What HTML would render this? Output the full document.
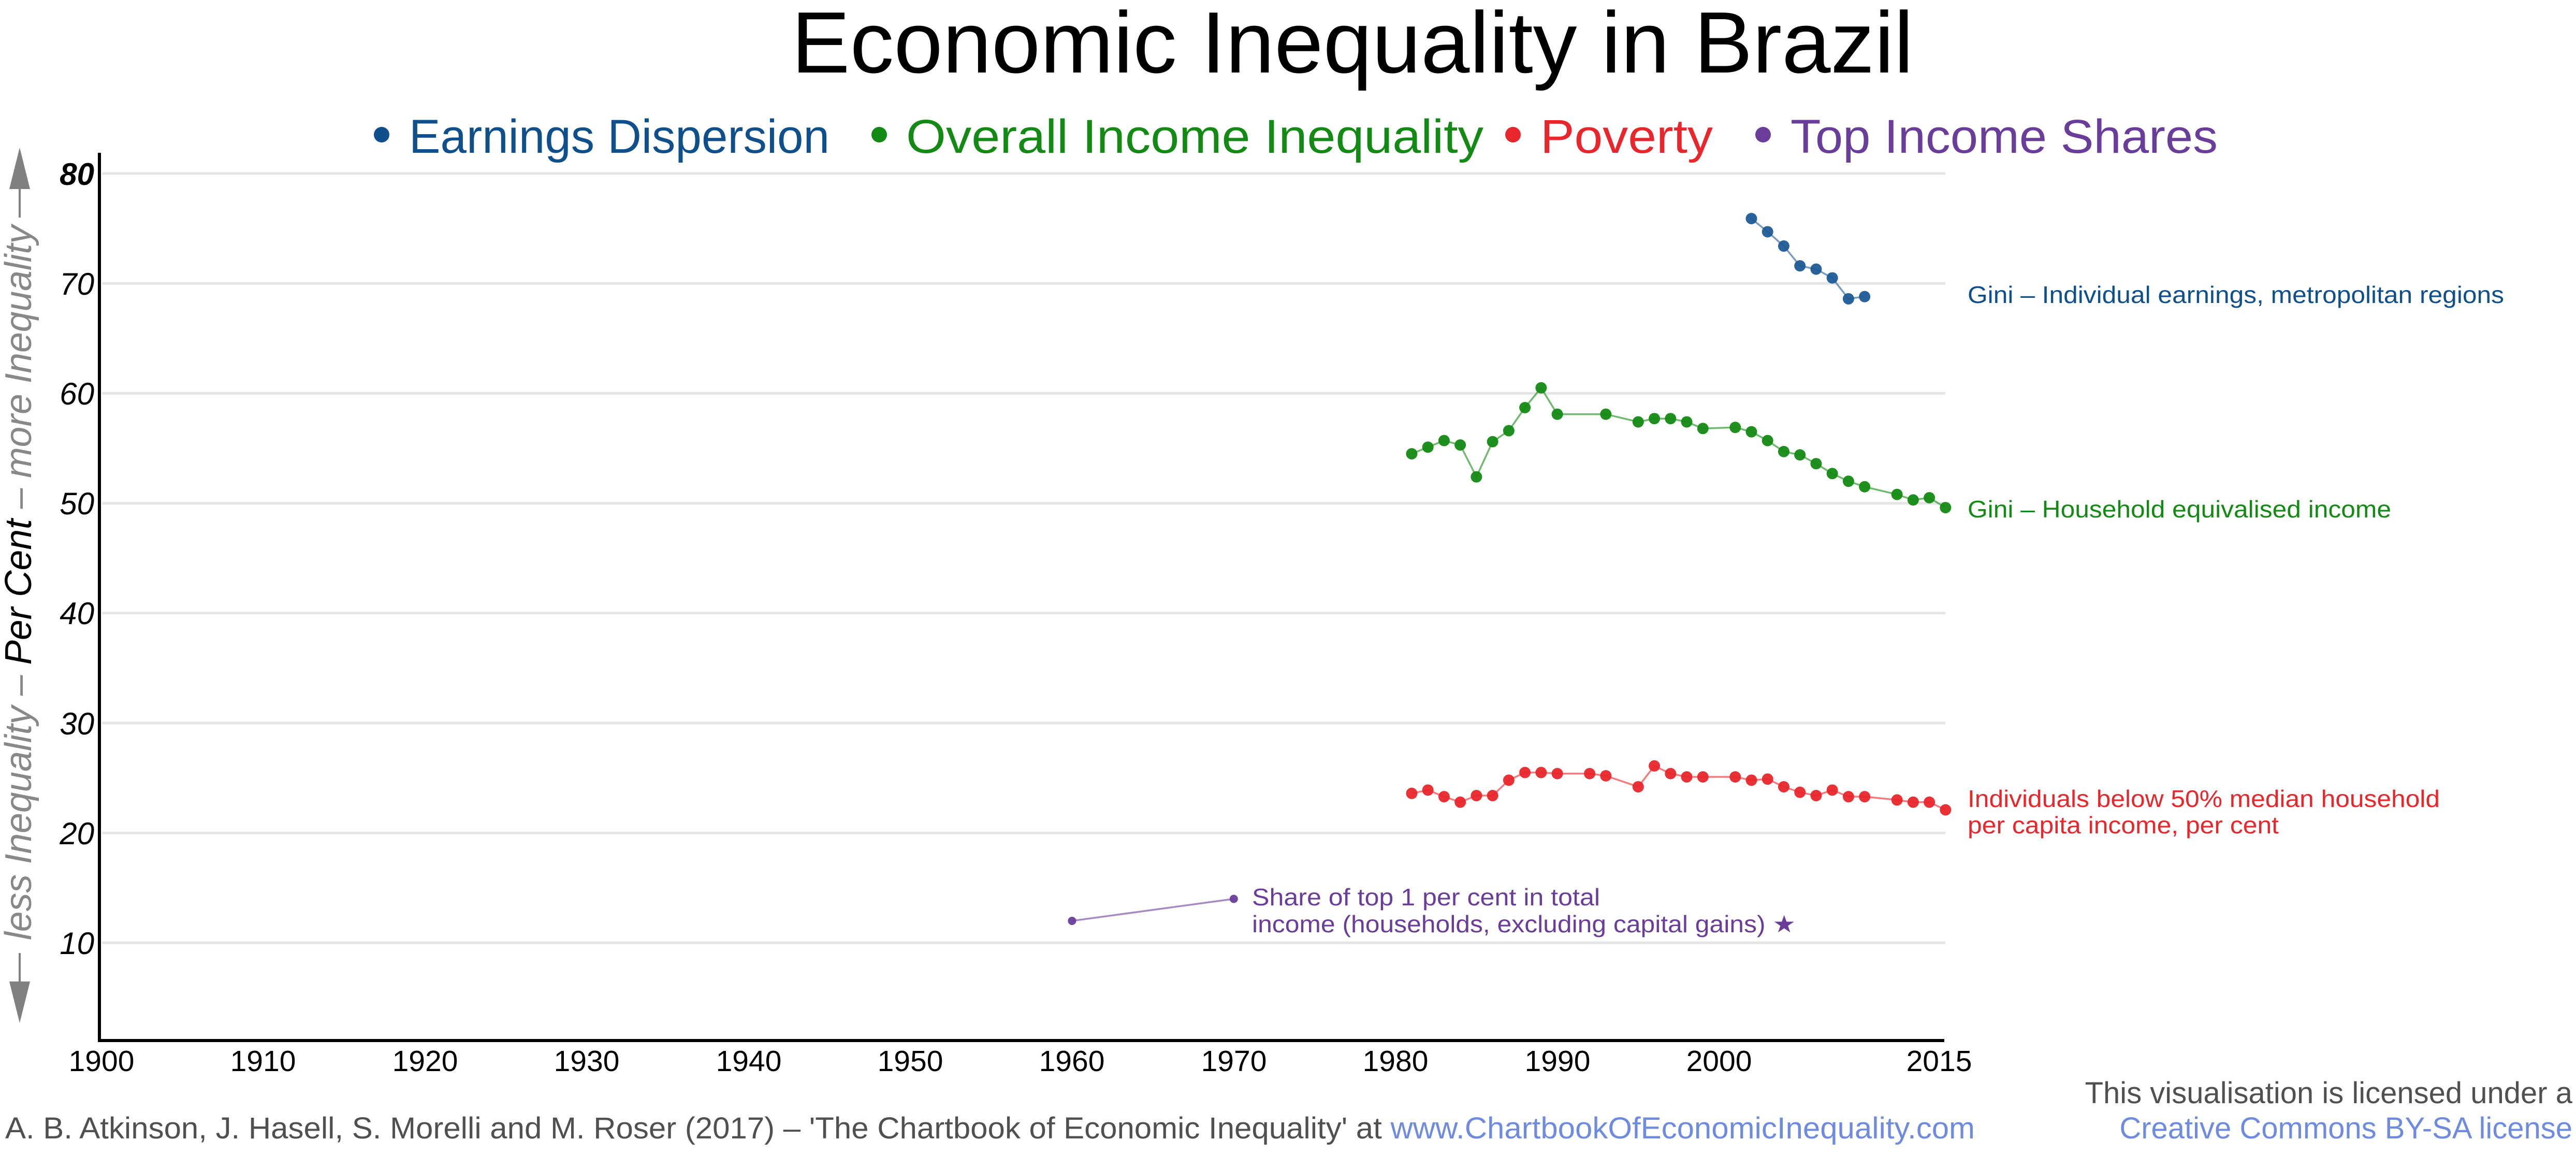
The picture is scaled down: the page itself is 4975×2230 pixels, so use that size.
<!DOCTYPE html>
<html><head><meta charset="utf-8"><style>
html,body{margin:0;padding:0;background:#fff}
svg{display:block}
text{font-family:"Liberation Sans",sans-serif}
</style></head><body>
<svg id="s" width="4975" height="2230" viewBox="0 0 4975 2230" xmlns="http://www.w3.org/2000/svg">
<text x="2612" y="140" font-size="168" font-weight="300" text-anchor="middle" textLength="2167" lengthAdjust="spacingAndGlyphs" fill="#000">Economic Inequality in Brazil</text>
<g font-size="92">
<circle cx="737" cy="260" r="15" fill="#0f4f8b"/><text x="790" y="295" fill="#0f4f8b" textLength="812" lengthAdjust="spacingAndGlyphs">Earnings Dispersion</text>
<circle cx="1698" cy="260" r="15" fill="#138a13"/><text x="1750" y="295" fill="#138a13" textLength="1115" lengthAdjust="spacingAndGlyphs">Overall Income Inequality</text>
<circle cx="2922" cy="260" r="15" fill="#e8262b"/><text x="2975" y="295" fill="#e8262b" textLength="333" lengthAdjust="spacingAndGlyphs">Poverty</text>
<circle cx="3405" cy="260" r="15" fill="#6a3d9a"/><text x="3458" y="295" fill="#6a3d9a" textLength="825" lengthAdjust="spacingAndGlyphs">Top Income Shares</text>
</g>
<g id="grid" stroke="#e5e5e5" stroke-width="5"></g>
<line x1="192" y1="295" x2="192" y2="2012" stroke="#000" stroke-width="6"/>
<line x1="189" y1="2009" x2="3755" y2="2009" stroke="#000" stroke-width="6"/>
<g font-size="60" font-style="italic" text-anchor="end" fill="#000">
<text x="182" y="357" font-weight="bold">80</text>
<text x="182" y="569">70</text><text x="182" y="781">60</text><text x="182" y="993">50</text>
<text x="182" y="1205">40</text><text x="182" y="1418">30</text><text x="182" y="1630">20</text><text x="182" y="1842">10</text>
</g>
<g font-size="57" text-anchor="middle" fill="#000">
<text x="196" y="2068">1900</text><text x="508" y="2068">1910</text><text x="821" y="2068">1920</text>
<text x="1133" y="2068">1930</text><text x="1446" y="2068">1940</text><text x="1758" y="2068">1950</text>
<text x="2070" y="2068">1960</text><text x="2383" y="2068">1970</text><text x="2695" y="2068">1980</text>
<text x="3008" y="2068">1990</text><text x="3320" y="2068">2000</text><text x="3745" y="2068">2015</text>
</g>
<polygon points="38,285 18,365 58,365" fill="#808080"/>
<polygon points="38,1975 18,1895 58,1895" fill="#808080"/>
<line x1="38" y1="360" x2="38" y2="420" stroke="#808080" stroke-width="4"/>
<line x1="38" y1="1840" x2="38" y2="1900" stroke="#808080" stroke-width="4"/>
<text transform="translate(60,1125) rotate(-90)" font-size="72" font-style="italic" text-anchor="middle" textLength="1380" lengthAdjust="spacingAndGlyphs" fill="#888">less Inequality – <tspan fill="#000">Per Cent</tspan> – more Inequality</text>
<g id="data"></g>
<g font-size="46">
<text x="3800" y="585" fill="#0f4f8b" textLength="1036" lengthAdjust="spacingAndGlyphs">Gini – Individual earnings, metropolitan regions</text>
<text x="3800" y="999" fill="#138a13" textLength="818" lengthAdjust="spacingAndGlyphs">Gini – Household equivalised income</text>
<text x="3800" y="1558" fill="#e8262b" textLength="912" lengthAdjust="spacingAndGlyphs">Individuals below 50% median household</text>
<text x="3800" y="1609" fill="#e8262b" textLength="601" lengthAdjust="spacingAndGlyphs">per capita income, per cent</text>
<text x="2418" y="1748" fill="#6a3d9a" textLength="672" lengthAdjust="spacingAndGlyphs">Share of top 1 per cent in total</text>
<text x="2418" y="1800" fill="#6a3d9a" textLength="1050" lengthAdjust="spacingAndGlyphs">income (households, excluding capital gains) ★</text>
</g>
<text x="10" y="2198" font-size="58" fill="#505050" textLength="3804" lengthAdjust="spacingAndGlyphs">A. B. Atkinson, J. Hasell, S. Morelli and M. Roser (2017) – 'The Chartbook of Economic Inequality' at <tspan fill="#6f8be0">www.ChartbookOfEconomicInequality.com</tspan></text>
<text x="4968" y="2130" font-size="58" fill="#505050" text-anchor="end">This visualisation is licensed under a</text>
<text x="4968" y="2198" font-size="58" fill="#6f8be0" text-anchor="end">Creative Commons BY-SA license</text>
</svg>
<script>
var NS="http://www.w3.org/2000/svg";
function X(y){return 196+(y-1900)*31.24}
function Y(v){return 335+(80-v)*21.22}
var g=document.getElementById("grid");
for(var v=10;v<=80;v+=10){var l=document.createElementNS(NS,"line");l.setAttribute("x1",197);l.setAttribute("x2",3757);l.setAttribute("y1",Y(v));l.setAttribute("y2",Y(v));g.appendChild(l);}
var series=[
["#1f5a96",[2002,2003,2004,2005,2006,2007,2008,2009],[75.9,74.7,73.4,71.6,71.3,70.5,68.6,68.8]],
["#138a13",[1981,1982,1983,1984,1985,1986,1987,1988,1989,1990,1993,1995,1996,1997,1998,1999,2001,2002,2003,2004,2005,2006,2007,2008,2009,2011,2012,2013,2014],
[54.5,55.1,55.7,55.3,52.4,55.6,56.6,58.7,60.5,58.1,58.1,57.4,57.7,57.7,57.4,56.8,56.9,56.5,55.7,54.7,54.4,53.6,52.7,52.0,51.5,50.8,50.3,50.5,49.6]],
["#e8262b",[1981,1982,1983,1984,1985,1986,1987,1988,1989,1990,1992,1993,1995,1996,1997,1998,1999,2001,2002,2003,2004,2005,2006,2007,2008,2009,2011,2012,2013,2014],
[23.6,23.9,23.3,22.8,23.4,23.4,24.8,25.5,25.5,25.4,25.4,25.2,24.2,26.1,25.4,25.1,25.1,25.1,24.8,24.9,24.2,23.7,23.4,23.9,23.3,23.3,23.0,22.8,22.8,22.1]],
["#6a3d9a",[1960,1970],[12.0,14.0]]];
var d=document.getElementById("data");
series.forEach(function(s){
 var pts=s[1].map(function(y,i){return X(y)+","+Y(s[2][i])}).join(" ");
 var p=document.createElementNS(NS,"polyline");p.setAttribute("points",pts);p.setAttribute("fill","none");
 p.setAttribute("stroke",s[0]);p.setAttribute("stroke-opacity","0.6");p.setAttribute("stroke-width","3.5");d.appendChild(p);
 s[1].forEach(function(y,i){var c=document.createElementNS(NS,"circle");c.setAttribute("cx",X(y));c.setAttribute("cy",Y(s[2][i]));
 c.setAttribute("r",s[0]=="#6a3d9a"?8:11);c.setAttribute("fill",s[0]);c.setAttribute("fill-opacity","0.95");d.appendChild(c);});
});
</script>
</body></html>
